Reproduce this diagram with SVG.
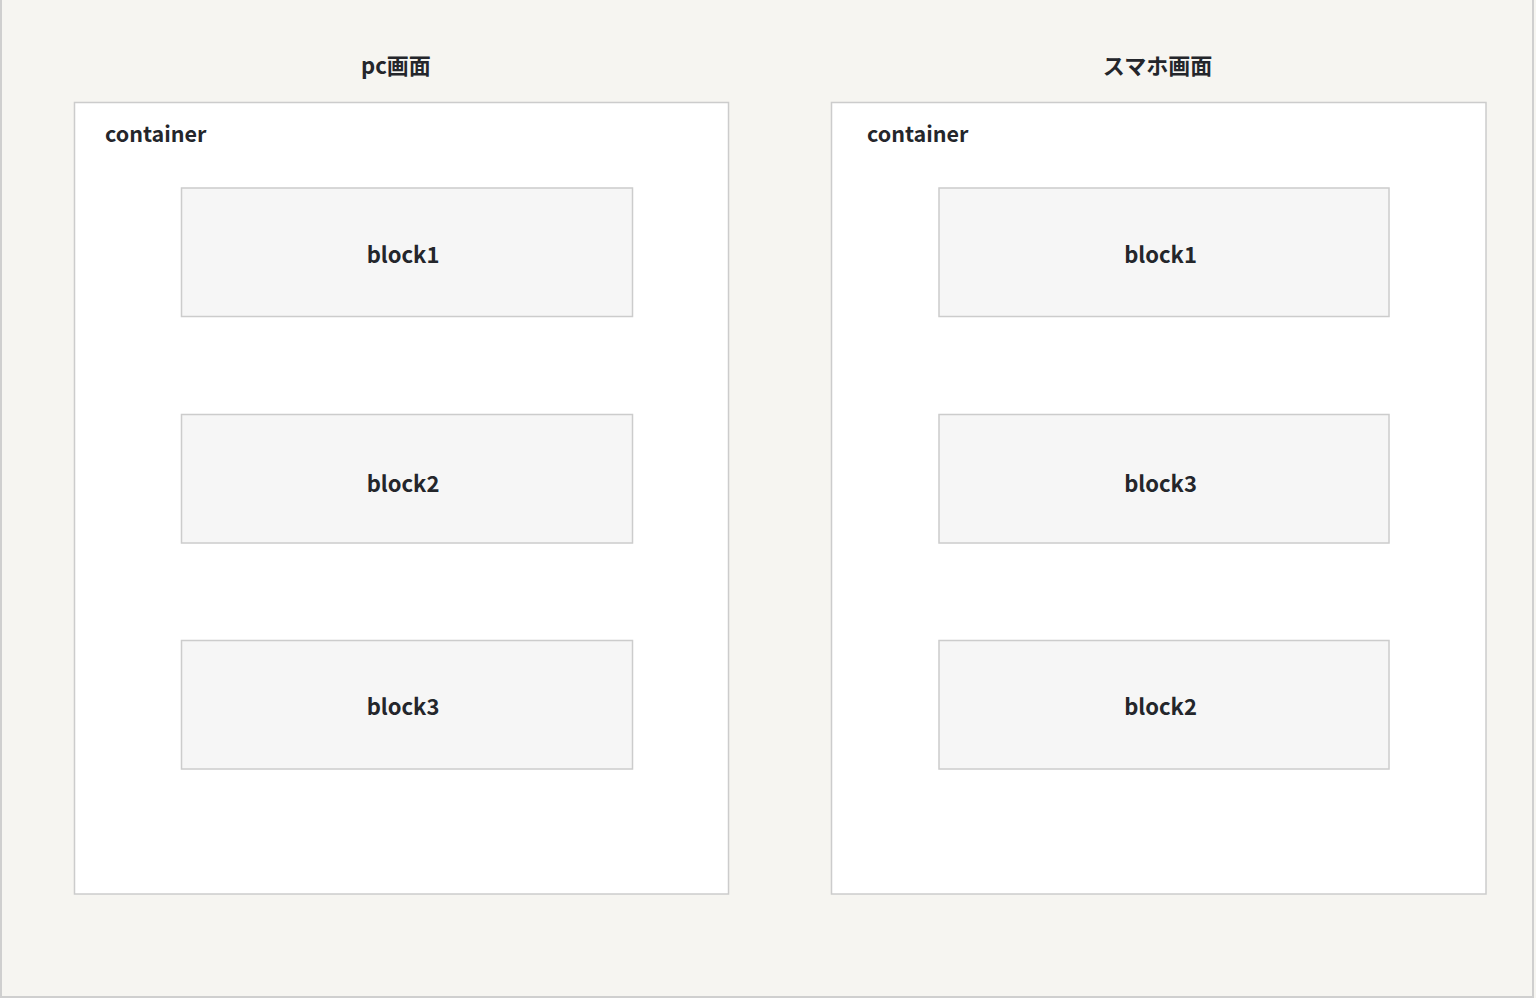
<svg xmlns="http://www.w3.org/2000/svg" width="1536" height="998" viewBox="0 0 1536 998">
<style>
  .bg { fill: #f6f5f1; }
  .frame { fill: none; stroke: #cfcfcf; stroke-width: 2; }
  .container { fill: #ffffff; stroke: #cccccc; stroke-width: 1.5; }
  .block { fill: #f6f6f6; stroke: #cccccc; stroke-width: 1.5; }
  text { font-family: "Noto Sans CJK JP", "Noto Sans", sans-serif; font-weight: bold; fill: #24262b; }
  .title { font-size: 22px; text-anchor: middle; }
  .label { font-size: 21.5px; }
  .blabel { font-size: 22px; text-anchor: middle; }
</style>
<rect class="bg" x="0" y="0" width="1536" height="998"/>
<path class="frame" d="M1 0 V997 H1533 V0"/>
<g id="pc-screen">
  <text class="title" x="396" y="74">pc画面</text>
  <g id="pc-container">
    <rect class="container" x="74.5" y="102.5" width="654" height="791.5"/>
    <text class="label" x="105" y="142">container</text>
  </g>
  <g id="pc-block1">
    <rect class="block" x="181.5" y="188" width="451" height="128.5"/>
    <text class="blabel" x="403" y="262.5">block1</text>
  </g>
  <g id="pc-block2">
    <rect class="block" x="181.5" y="414.5" width="451" height="128.5"/>
    <text class="blabel" x="403" y="492">block2</text>
  </g>
  <g id="pc-block3">
    <rect class="block" x="181.5" y="640.5" width="451" height="128.5"/>
    <text class="blabel" x="403" y="715">block3</text>
  </g>
</g>
<g id="sp-screen">
  <text class="title" x="1157.5" y="74">スマホ画面</text>
  <g id="sp-container">
    <rect class="container" x="831.5" y="102.5" width="654.5" height="791.5"/>
    <text class="label" x="867" y="142">container</text>
  </g>
  <g id="sp-block1">
    <rect class="block" x="939" y="188" width="450" height="128.5"/>
    <text class="blabel" x="1160.5" y="262.5">block1</text>
  </g>
  <g id="sp-block3">
    <rect class="block" x="939" y="414.5" width="450" height="128.5"/>
    <text class="blabel" x="1160.5" y="492">block3</text>
  </g>
  <g id="sp-block2">
    <rect class="block" x="939" y="640.5" width="450" height="128.5"/>
    <text class="blabel" x="1160.5" y="715">block2</text>
  </g>
</g>
<g id="connectors"></g>
</svg>
